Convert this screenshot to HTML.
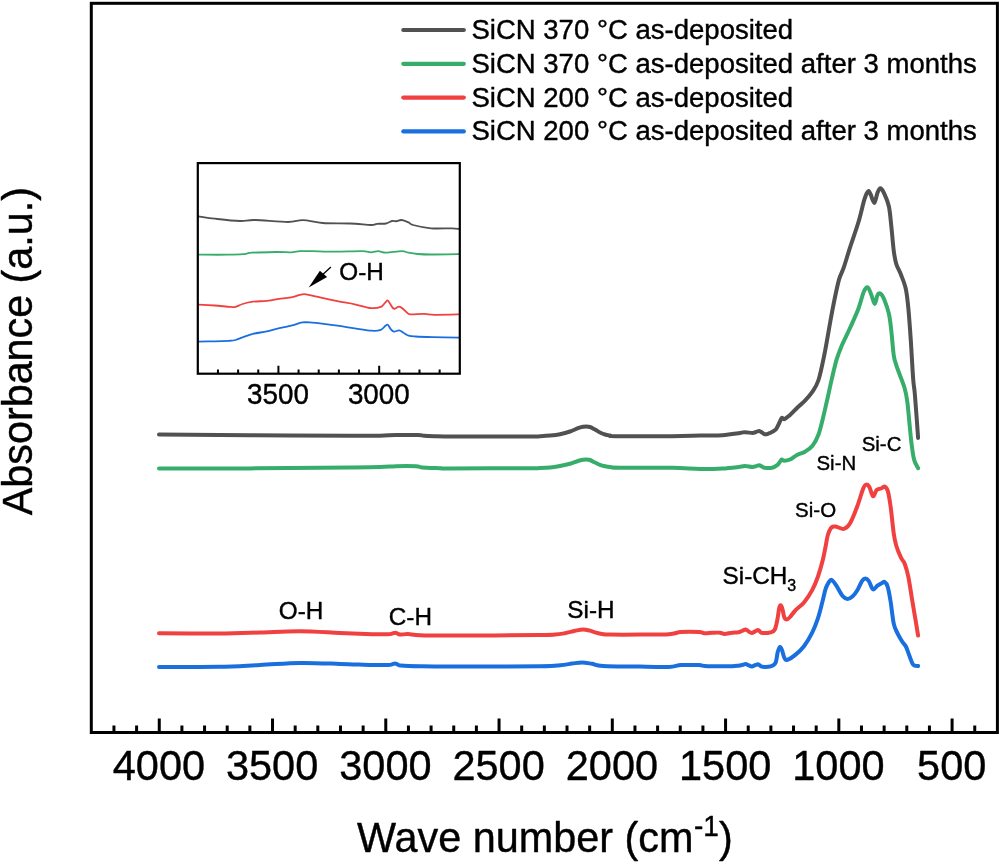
<!DOCTYPE html>
<html lang="en"><head><meta charset="utf-8"><title>FTIR absorbance spectra of SiCN films</title>
<style>html,body{margin:0;padding:0;background:#fff}body{width:1000px;height:863px;overflow:hidden}svg{display:block}</style>
</head><body>
<svg width="1000" height="863" viewBox="0 0 1000 863" font-family="'Liberation Sans', Arial, sans-serif" fill="#000"><style>text{stroke:#000;stroke-width:0.4px;stroke-linejoin:round}</style>
<rect width="1000" height="863" fill="#fff"/>
<path d="M159.0,666.9 C169.0,666.9 202.2,667.1 219.0,666.8 C235.8,666.5 246.5,665.6 260.0,665.0 C273.5,664.4 286.7,663.1 300.0,662.9 C313.3,662.7 328.0,663.5 340.0,663.9 C352.0,664.2 364.0,664.8 372.0,665.0 C380.0,665.2 384.7,665.1 388.0,665.0 C391.3,664.9 390.8,664.6 392.0,664.4 C393.2,664.2 394.0,663.6 395.0,663.6 C396.0,663.6 397.0,664.3 398.0,664.6 C399.0,664.9 397.1,665.1 400.8,665.4 C404.5,665.7 411.8,666.0 420.0,666.2 C428.2,666.4 430.0,666.5 450.0,666.5 C470.0,666.5 521.7,666.5 540.0,666.3 C558.3,666.1 554.7,665.7 560.0,665.2 C565.3,664.8 568.3,664.1 572.0,663.6 C575.7,663.1 578.7,662.4 582.0,662.4 C585.3,662.4 588.5,663.2 592.0,663.8 C595.5,664.4 595.0,665.5 603.0,666.0 C611.0,666.5 629.0,666.5 640.0,666.6 C651.0,666.8 662.2,667.1 669.0,666.9 C675.8,666.6 676.0,665.4 681.0,665.1 C686.0,664.8 695.0,665.0 699.0,665.1 C703.0,665.2 701.5,665.8 705.0,666.0 C708.5,666.2 715.5,666.3 720.0,666.3 C724.5,666.3 729.0,666.3 732.0,666.2 C735.0,666.1 736.3,665.9 738.0,665.7 C739.7,665.5 740.7,665.3 742.0,665.0 C743.3,664.7 744.5,664.0 745.6,664.0 C746.7,664.0 747.5,664.8 748.5,665.2 C749.5,665.6 750.7,666.4 751.8,666.4 C752.9,666.4 754.0,665.6 755.0,665.2 C756.0,664.9 757.3,664.2 758.1,664.3 C758.9,664.4 759.3,665.2 760.0,665.6 C760.7,666.0 760.5,666.7 762.3,666.8 C764.1,666.9 768.4,667.0 770.6,666.4 C772.8,665.8 774.3,665.3 775.5,662.9 C776.7,660.5 777.0,654.5 777.8,651.8 C778.6,649.1 779.4,647.1 780.1,646.9 C780.8,646.7 781.4,648.5 782.1,650.4 C782.8,652.3 783.6,656.5 784.5,658.1 C785.4,659.7 785.4,660.5 787.3,659.9 C789.1,659.3 792.8,656.9 795.6,654.6 C798.4,652.3 801.2,649.9 804.0,646.2 C806.8,642.5 810.0,636.9 812.3,632.3 C814.6,627.7 816.3,623.3 817.9,618.4 C819.5,613.5 820.8,608.0 822.1,603.1 C823.4,598.2 824.4,592.8 825.5,589.2 C826.6,585.7 828.0,583.3 829.0,581.8 C830.0,580.3 830.6,579.4 831.8,580.0 C833.0,580.6 834.4,582.7 836.2,585.4 C838.0,588.1 840.7,593.8 842.6,596.1 C844.5,598.4 845.9,598.9 847.5,599.0 C849.1,599.1 850.8,598.0 852.4,596.6 C854.0,595.2 855.6,593.1 857.2,590.5 C858.8,587.9 860.8,582.8 862.1,580.8 C863.5,578.8 864.2,578.4 865.3,578.4 C866.4,578.4 867.4,579.0 868.7,580.8 C870.0,582.6 871.5,588.5 873.0,589.3 C874.5,590.1 876.0,586.7 877.4,585.7 C878.8,584.7 880.4,583.8 881.6,583.2 C882.8,582.6 883.7,581.4 884.7,582.0 C885.7,582.6 886.7,583.6 887.7,586.9 C888.7,590.1 889.6,595.4 890.6,601.5 C891.6,607.6 892.6,618.1 893.7,623.4 C894.8,628.7 896.0,630.0 897.4,633.1 C898.8,636.2 900.9,639.5 902.3,641.7 C903.7,643.9 904.7,644.1 905.9,646.5 C907.1,648.9 908.4,653.2 909.6,656.3 C910.8,659.3 911.8,663.2 913.2,664.8 C914.6,666.4 917.3,665.8 918.1,666.0" fill="none" stroke="#1A6FDF" stroke-width="4" stroke-linecap="round" stroke-linejoin="round"/>
<path d="M159.0,633.2 C169.0,633.2 202.2,633.6 219.0,633.5 C235.8,633.4 246.5,632.9 260.0,632.5 C273.5,632.1 286.7,631.2 300.0,631.3 C313.3,631.4 328.0,632.5 340.0,633.0 C352.0,633.5 364.0,634.0 372.0,634.2 C380.0,634.4 384.7,634.3 388.0,634.2 C391.3,634.1 390.8,633.9 392.0,633.6 C393.2,633.4 394.2,632.7 395.2,632.7 C396.2,632.7 397.1,633.5 398.0,633.8 C398.9,634.1 399.1,634.6 400.8,634.6 C402.5,634.6 404.8,633.9 408.0,634.0 C411.2,634.1 413.0,635.0 420.0,635.3 C427.0,635.6 430.0,635.6 450.0,635.6 C470.0,635.6 522.5,635.2 540.0,635.0 C557.5,634.8 550.8,634.9 555.0,634.6 C559.2,634.3 561.7,633.8 565.0,633.2 C568.3,632.6 572.0,631.4 575.0,630.8 C578.0,630.2 580.5,629.5 583.0,629.5 C585.5,629.5 587.8,630.1 590.0,630.6 C592.2,631.1 594.0,632.0 596.0,632.6 C598.0,633.2 599.7,633.7 602.0,634.0 C604.3,634.3 603.7,634.5 610.0,634.6 C616.3,634.7 630.2,634.7 640.0,634.6 C649.8,634.5 662.2,634.6 669.0,634.2 C675.8,633.8 676.0,632.5 681.0,632.1 C686.0,631.8 695.0,631.9 699.0,632.1 C703.0,632.3 702.8,633.2 705.0,633.3 C707.2,633.4 709.5,632.9 712.0,632.8 C714.5,632.7 717.9,632.5 720.0,632.7 C722.1,632.9 722.5,633.9 724.5,633.9 C726.5,633.9 729.8,633.0 732.0,632.8 C734.2,632.5 736.3,632.7 738.0,632.4 C739.7,632.1 740.7,631.5 742.0,631.0 C743.3,630.5 744.5,629.4 745.6,629.5 C746.7,629.6 747.5,630.8 748.5,631.4 C749.5,632.0 750.7,633.0 751.8,633.0 C752.9,633.0 754.0,631.9 755.0,631.4 C756.0,630.9 757.3,630.0 758.1,630.0 C758.9,630.0 759.3,631.1 760.0,631.6 C760.7,632.1 760.5,632.9 762.3,633.0 C764.1,633.1 768.5,632.9 770.6,632.3 C772.7,631.7 773.6,631.8 774.8,629.5 C776.0,627.2 776.9,622.0 777.6,618.4 C778.3,614.8 778.7,610.2 779.2,608.0 C779.7,605.8 780.3,605.1 780.8,605.2 C781.3,605.3 781.8,606.7 782.4,608.7 C783.0,610.7 783.5,615.2 784.2,617.0 C784.9,618.8 785.6,619.5 786.6,619.5 C787.6,619.5 788.6,618.6 790.1,617.0 C791.6,615.4 793.3,612.5 795.6,610.1 C797.9,607.7 801.2,605.8 804.0,602.4 C806.8,599.0 810.0,594.2 812.3,589.9 C814.6,585.6 816.1,581.7 817.9,576.7 C819.6,571.7 821.6,564.8 822.8,560.0 C824.0,555.2 824.4,552.2 825.3,548.0 C826.2,543.8 826.9,538.0 828.0,534.5 C829.1,531.0 830.3,528.5 831.7,527.2 C833.1,525.9 834.5,526.4 836.5,526.7 C838.5,527.0 841.6,529.4 843.8,528.9 C846.0,528.4 847.7,527.3 849.9,523.6 C852.1,519.9 855.0,512.4 857.2,506.5 C859.4,500.6 861.8,491.9 863.3,488.3 C864.8,484.7 865.2,484.8 866.2,484.6 C867.2,484.4 868.3,485.1 869.4,487.0 C870.5,488.9 871.8,495.8 873.0,496.3 C874.2,496.8 875.3,491.3 876.7,490.0 C878.1,488.7 880.3,488.9 881.6,488.3 C882.9,487.7 883.7,486.2 884.7,486.6 C885.7,487.0 886.7,487.4 887.7,490.7 C888.7,494.0 889.6,499.4 890.6,506.5 C891.6,513.6 892.8,526.8 893.7,533.3 C894.6,539.8 895.0,541.4 896.2,545.5 C897.4,549.6 899.6,554.7 901.0,557.7 C902.4,560.7 903.5,560.5 904.7,563.7 C905.9,566.9 907.2,571.2 908.4,577.1 C909.6,583.0 910.8,591.7 912.0,599.0 C913.2,606.3 914.7,614.9 915.7,621.0 C916.7,627.1 917.7,633.2 918.1,635.6" fill="none" stroke="#F14040" stroke-width="4" stroke-linecap="round" stroke-linejoin="round"/>
<path d="M159.0,468.5 C174.2,468.5 218.2,468.6 250.0,468.4 C281.8,468.2 328.3,467.7 350.0,467.5 C371.7,467.3 372.3,467.3 380.0,467.1 C387.7,466.9 390.0,466.4 396.0,466.2 C402.0,466.0 411.7,466.0 416.0,466.2 C420.3,466.4 418.0,467.1 422.0,467.4 C426.0,467.7 435.3,468.0 440.0,468.2 C444.7,468.4 435.0,468.4 450.0,468.4 C465.0,468.4 515.0,468.3 530.0,468.2 C545.0,468.1 536.7,468.1 540.0,468.0 C543.3,467.9 546.7,467.8 550.0,467.5 C553.3,467.2 556.7,466.6 560.0,466.0 C563.3,465.4 567.0,464.5 570.0,463.7 C573.0,462.9 575.8,461.6 578.0,461.0 C580.2,460.4 581.6,460.1 583.0,459.8 C584.4,459.6 585.3,459.5 586.5,459.5 C587.7,459.5 588.6,459.5 590.0,460.0 C591.4,460.5 593.3,461.7 595.0,462.5 C596.7,463.3 598.3,464.2 600.0,464.8 C601.7,465.4 603.3,465.8 605.0,466.2 C606.7,466.6 607.5,466.8 610.0,467.0 C612.5,467.2 609.7,467.6 620.0,467.7 C630.3,467.8 658.7,467.6 672.0,467.8 C685.3,468.0 691.6,468.9 700.0,469.0 C708.4,469.1 715.8,468.9 722.5,468.5 C729.2,468.1 736.2,467.2 740.0,466.8 C743.8,466.4 742.9,466.0 745.0,466.0 C747.1,466.0 750.7,467.0 752.5,467.0 C754.3,467.0 754.9,466.5 756.0,466.2 C757.1,465.9 758.2,465.1 759.2,465.2 C760.2,465.3 761.1,466.2 762.0,466.6 C762.9,467.0 762.8,467.6 764.5,467.8 C766.2,468.0 769.9,468.2 772.0,467.8 C774.1,467.4 775.9,466.2 777.2,465.2 C778.5,464.2 779.0,462.9 779.8,462.0 C780.5,461.1 781.0,459.7 781.7,459.5 C782.4,459.3 782.6,460.7 784.0,460.7 C785.4,460.7 787.8,460.5 790.0,459.5 C792.2,458.5 795.0,456.0 797.5,454.7 C800.0,453.4 802.5,453.2 805.0,451.7 C807.5,450.2 810.2,448.6 812.5,445.7 C814.8,442.8 816.8,439.1 818.5,434.5 C820.2,429.9 821.5,424.0 823.0,418.0 C824.5,412.0 826.0,404.9 827.5,398.5 C829.0,392.1 830.2,385.8 831.7,379.4 C833.2,373.0 834.9,365.4 836.5,359.9 C838.1,354.4 839.2,351.8 841.4,346.5 C843.6,341.2 847.1,334.6 849.9,328.3 C852.7,322.0 856.1,314.9 858.4,308.8 C860.7,302.7 862.2,295.3 863.8,291.7 C865.3,288.1 866.5,287.0 867.7,287.4 C868.9,287.8 869.9,291.4 871.1,294.2 C872.3,296.9 873.7,303.7 874.7,303.9 C875.8,304.1 876.5,297.1 877.4,295.4 C878.3,293.6 879.3,292.8 880.4,293.4 C881.5,294.0 882.6,295.6 884.0,299.0 C885.4,302.4 887.7,308.4 888.9,313.7 C890.1,319.0 890.5,323.8 891.3,330.7 C892.1,337.6 892.9,349.3 893.7,355.0 C894.5,360.7 895.3,361.9 896.2,364.8 C897.1,367.7 897.5,368.7 898.9,372.5 C900.3,376.3 903.1,382.9 904.5,387.8 C905.9,392.7 906.5,395.9 907.3,401.7 C908.1,407.5 908.7,415.7 909.4,422.6 C910.1,429.6 910.7,437.1 911.5,443.4 C912.3,449.6 913.1,456.0 914.2,460.1 C915.3,464.2 917.5,466.9 918.1,468.2" fill="none" stroke="#37AD6B" stroke-width="4" stroke-linecap="round" stroke-linejoin="round"/>
<path d="M159.0,434.4 C174.2,434.5 218.2,435.0 250.0,435.2 C281.8,435.4 328.3,435.6 350.0,435.7 C371.7,435.8 372.3,435.8 380.0,435.7 C387.7,435.6 389.7,435.1 396.0,435.0 C402.3,434.9 413.3,434.9 418.0,435.0 C422.7,435.1 421.3,435.6 424.0,435.8 C426.7,436.0 429.7,436.1 434.0,436.2 C438.3,436.3 434.0,436.4 450.0,436.5 C466.0,436.6 515.0,436.6 530.0,436.5 C545.0,436.4 536.7,436.4 540.0,436.2 C543.3,436.0 546.7,435.8 550.0,435.5 C553.3,435.2 556.7,434.9 560.0,434.2 C563.3,433.5 567.0,432.5 570.0,431.5 C573.0,430.5 575.8,429.0 578.0,428.2 C580.2,427.4 581.6,427.1 583.0,426.8 C584.4,426.5 585.3,426.4 586.5,426.4 C587.7,426.4 588.6,426.5 590.0,427.0 C591.4,427.5 593.3,428.6 595.0,429.5 C596.7,430.4 598.3,431.7 600.0,432.5 C601.7,433.3 603.3,434.0 605.0,434.5 C606.7,435.0 608.2,435.2 610.0,435.5 C611.8,435.8 605.7,436.1 616.0,436.2 C626.3,436.3 658.0,436.3 672.0,436.2 C686.0,436.1 691.6,435.7 700.0,435.5 C708.4,435.3 715.8,435.6 722.5,435.2 C729.2,434.8 736.2,433.5 740.0,433.0 C743.8,432.5 742.9,432.2 745.0,432.2 C747.1,432.2 750.7,433.0 752.5,433.0 C754.3,433.0 754.9,432.3 756.0,432.0 C757.1,431.7 758.2,430.9 759.2,431.0 C760.2,431.1 761.1,432.1 762.0,432.6 C762.9,433.1 763.5,434.0 764.5,434.2 C765.5,434.4 767.0,434.1 768.0,433.8 C769.0,433.6 769.5,433.2 770.5,432.7 C771.5,432.2 773.0,431.5 774.0,430.8 C775.0,430.1 775.6,429.9 776.5,428.5 C777.4,427.1 778.6,424.2 779.5,422.5 C780.4,420.8 781.0,418.6 781.7,418.0 C782.5,417.4 783.1,419.3 784.0,419.2 C784.9,419.1 786.0,418.1 787.0,417.4 C788.0,416.7 788.2,416.6 790.0,415.0 C791.8,413.4 795.0,409.9 797.5,407.5 C800.0,405.1 802.5,403.3 805.0,400.7 C807.5,398.1 810.2,395.1 812.5,391.7 C814.8,388.2 816.5,386.1 818.5,380.0 C820.5,373.9 822.3,364.8 824.3,355.0 C826.3,345.2 828.8,329.9 830.4,321.0 C832.0,312.1 832.7,308.4 834.1,301.5 C835.5,294.6 837.4,285.3 839.0,279.6 C840.6,273.9 842.0,272.7 843.8,267.4 C845.6,262.1 847.5,255.4 849.9,247.9 C852.3,240.4 856.0,230.4 858.4,222.3 C860.8,214.2 862.9,204.3 864.5,199.2 C866.1,194.0 867.2,192.2 868.2,191.4 C869.2,190.6 869.6,192.4 870.6,194.3 C871.6,196.2 873.2,203.1 874.3,202.9 C875.4,202.7 876.4,195.5 877.4,193.1 C878.4,190.7 879.3,188.3 880.4,188.3 C881.5,188.3 882.6,190.1 884.0,193.1 C885.4,196.1 887.7,201.0 888.9,206.5 C890.1,212.0 890.5,218.7 891.3,226.0 C892.1,233.3 892.9,244.1 893.7,250.4 C894.5,256.7 895.0,259.6 896.2,263.7 C897.4,267.8 899.4,270.4 901.0,274.7 C902.6,279.0 904.7,283.6 905.9,289.3 C907.1,295.0 907.6,300.3 908.4,308.8 C909.2,317.3 910.0,328.6 910.8,340.4 C911.6,352.2 912.5,370.3 913.2,379.4 C913.9,388.5 914.1,385.1 914.9,394.8 C915.7,404.6 917.6,430.7 918.1,437.9" fill="none" stroke="#515151" stroke-width="4" stroke-linecap="round" stroke-linejoin="round"/>
<rect x="91.3" y="3.3" width="906.1" height="729.2" fill="none" stroke="#000" stroke-width="3"/>
<path d="M974.75,732.5 V725.6 M952.09,732.5 V718.5 M929.44,732.5 V725.6 M906.79,732.5 V725.6 M884.14,732.5 V725.6 M861.48,732.5 V725.6 M838.83,732.5 V718.5 M816.18,732.5 V725.6 M793.53,732.5 V725.6 M770.88,732.5 V725.6 M748.22,732.5 V725.6 M725.57,732.5 V718.5 M702.92,732.5 V725.6 M680.26,732.5 V725.6 M657.61,732.5 V725.6 M634.96,732.5 V725.6 M612.31,732.5 V718.5 M589.65,732.5 V725.6 M567.00,732.5 V725.6 M544.35,732.5 V725.6 M521.70,732.5 V725.6 M499.05,732.5 V718.5 M476.39,732.5 V725.6 M453.74,732.5 V725.6 M431.09,732.5 V725.6 M408.44,732.5 V725.6 M385.78,732.5 V718.5 M363.13,732.5 V725.6 M340.48,732.5 V725.6 M317.82,732.5 V725.6 M295.17,732.5 V725.6 M272.52,732.5 V718.5 M249.87,732.5 V725.6 M227.21,732.5 V725.6 M204.56,732.5 V725.6 M181.91,732.5 V725.6 M159.26,732.5 V718.5 M136.60,732.5 V725.6 M113.95,732.5 V725.6" stroke="#000" stroke-width="3" fill="none"/>
<text transform="translate(951.7,779.7) scale(1,1.03)" font-size="41.5" text-anchor="middle">500</text>
<text transform="translate(838.4,779.7) scale(1,1.03)" font-size="41.5" text-anchor="middle">1000</text>
<text transform="translate(725.2,779.7) scale(1,1.03)" font-size="41.5" text-anchor="middle">1500</text>
<text transform="translate(611.9,779.7) scale(1,1.03)" font-size="41.5" text-anchor="middle">2000</text>
<text transform="translate(498.6,779.7) scale(1,1.03)" font-size="41.5" text-anchor="middle">2500</text>
<text transform="translate(385.4,779.7) scale(1,1.03)" font-size="41.5" text-anchor="middle">3000</text>
<text transform="translate(272.1,779.7) scale(1,1.03)" font-size="41.5" text-anchor="middle">3500</text>
<text transform="translate(158.9,779.7) scale(1,1.03)" font-size="41.5" text-anchor="middle">4000</text>
<text transform="translate(0,852.3) scale(1,1.03)" font-size="41.4"><tspan x="356.9">Wave number (cm</tspan><tspan x="693.9" font-size="28" dy="-16.3">-1</tspan><tspan x="718.9" dy="16.3">)</tspan></text>
<text transform="translate(32.4,351.1) rotate(-90) scale(1,1.03)" font-size="41.3" text-anchor="middle">Absorbance (a.u.)</text>
<path d="M403.3,30.0 H463.8" stroke="#515151" stroke-width="4.2" stroke-linecap="round"/>
<text transform="translate(471.4,38.9) scale(1,1.03)" font-size="27.55">SiCN 370 °C as-deposited</text>
<path d="M403.3,63.8 H463.8" stroke="#37AD6B" stroke-width="4.2" stroke-linecap="round"/>
<text transform="translate(471.4,72.7) scale(1,1.03)" font-size="27.55">SiCN 370 °C as-deposited after 3 months</text>
<path d="M403.3,97.6 H463.8" stroke="#F14040" stroke-width="4.2" stroke-linecap="round"/>
<text transform="translate(471.4,106.5) scale(1,1.03)" font-size="27.55">SiCN 200 °C as-deposited</text>
<path d="M403.3,131.4 H463.8" stroke="#1A6FDF" stroke-width="4.2" stroke-linecap="round"/>
<text transform="translate(471.4,140.3) scale(1,1.03)" font-size="27.55">SiCN 200 °C as-deposited after 3 months</text>
<rect x="197.8" y="163.1" width="262.0" height="210.6" fill="#fff" stroke="none"/>
<path d="M198.3,341.7 C201.1,341.6 209.7,341.4 214.8,341.3 C219.9,341.2 225.2,341.0 228.7,340.8 C232.2,340.6 233.3,340.6 235.6,340.0 C237.9,339.4 239.7,338.4 242.6,337.4 C245.5,336.4 248.9,334.9 253.0,333.9 C257.1,332.9 262.3,332.3 266.9,331.3 C271.5,330.3 276.8,328.7 280.8,327.8 C284.9,326.9 288.0,326.5 291.2,325.7 C294.4,324.9 297.6,323.5 299.9,322.9 C302.2,322.3 303.2,322.2 305.2,322.1 C307.2,322.1 309.6,322.4 312.1,322.6 C314.6,322.8 315.8,322.9 320.0,323.4 C324.2,323.9 331.6,324.9 337.4,325.7 C343.2,326.5 349.1,327.5 354.8,328.3 C360.5,329.1 367.0,330.4 371.3,330.7 C375.6,331.0 378.5,330.7 380.8,329.9 C383.1,329.1 384.0,326.9 385.2,326.0 C386.4,325.1 386.9,324.2 387.8,324.7 C388.7,325.1 389.4,327.5 390.4,328.7 C391.4,329.9 392.4,331.3 393.9,331.6 C395.3,331.9 397.5,330.2 399.1,330.4 C400.7,330.6 401.8,331.8 403.4,332.7 C405.0,333.6 406.6,335.0 408.6,335.6 C410.6,336.2 411.5,336.2 415.6,336.5 C419.7,336.8 425.8,337.0 433.0,337.2 C440.2,337.4 454.7,337.6 459.0,337.7" fill="none" stroke="#1A6FDF" stroke-width="1.8" stroke-linecap="round" stroke-linejoin="round"/>
<path d="M198.3,304.7 C201.1,304.8 209.5,305.1 214.8,305.5 C220.2,305.9 226.9,306.7 230.4,306.9 C233.9,307.1 233.6,307.4 235.6,306.9 C237.6,306.4 239.7,304.9 242.6,304.0 C245.5,303.1 248.9,302.2 253.0,301.7 C257.1,301.2 262.3,301.3 266.9,300.8 C271.5,300.3 276.8,299.2 280.8,298.6 C284.9,298.0 288.0,298.0 291.2,297.4 C294.4,296.8 297.7,295.3 299.9,294.8 C302.1,294.3 302.9,294.2 304.3,294.2 C305.8,294.2 306.0,294.3 308.6,294.8 C311.2,295.3 315.2,296.3 320.0,297.4 C324.8,298.5 331.6,300.0 337.4,301.2 C343.2,302.4 349.1,303.1 354.8,304.3 C360.5,305.5 367.0,307.7 371.3,308.1 C375.6,308.5 378.5,307.8 380.8,306.9 C383.1,306.0 384.0,303.7 385.2,302.6 C386.4,301.5 386.9,300.2 387.8,300.5 C388.7,300.8 389.4,302.9 390.4,304.3 C391.4,305.7 392.4,308.3 393.9,308.7 C395.3,309.1 397.5,306.5 399.1,306.6 C400.7,306.7 402.1,308.2 403.4,309.2 C404.7,310.2 405.7,311.6 406.9,312.5 C408.1,313.4 407.5,314.2 410.4,314.4 C413.3,314.6 420.2,313.8 424.3,313.9 C428.4,314.0 428.9,314.7 434.7,314.8 C440.5,314.9 454.9,314.5 459.0,314.4" fill="none" stroke="#F14040" stroke-width="1.8" stroke-linecap="round" stroke-linejoin="round"/>
<path d="M198.0,254.7 C203.0,254.7 220.5,254.8 228.0,254.7 C235.5,254.6 239.0,254.5 243.0,254.2 C247.0,253.9 246.5,253.1 252.0,252.7 C257.5,252.3 269.5,252.1 276.0,252.0 C282.5,251.9 287.0,252.4 291.0,252.3 C295.0,252.2 296.5,251.4 300.0,251.2 C303.5,251.0 306.2,251.1 312.0,251.2 C317.8,251.3 326.7,251.7 335.0,251.7 C343.3,251.7 356.0,251.1 362.0,251.2 C368.0,251.3 368.2,252.3 371.0,252.3 C373.8,252.3 376.0,251.1 378.5,251.2 C381.0,251.3 382.1,252.7 386.0,252.7 C389.9,252.7 397.9,251.2 401.7,251.2 C405.4,251.2 405.9,252.2 408.5,252.7 C411.1,253.2 413.8,253.7 417.5,254.0 C421.2,254.3 424.0,254.5 431.0,254.5 C438.0,254.5 454.8,254.1 459.5,254.0" fill="none" stroke="#37AD6B" stroke-width="1.8" stroke-linecap="round" stroke-linejoin="round"/>
<path d="M198.0,216.4 C201.2,216.8 210.5,218.2 217.5,219.0 C224.5,219.8 233.8,220.8 240.0,221.0 C246.2,221.2 247.0,219.8 255.0,220.0 C263.0,220.2 280.0,222.0 288.0,222.0 C296.0,222.0 297.2,220.0 303.0,220.2 C308.8,220.4 314.7,222.4 322.5,223.0 C330.3,223.6 341.9,223.2 350.0,223.5 C358.1,223.8 366.5,224.9 371.0,225.0 C375.5,225.1 374.5,224.1 377.0,223.8 C379.5,223.6 383.5,224.0 386.0,223.5 C388.5,223.0 390.2,221.4 392.0,221.0 C393.8,220.6 394.9,221.4 396.5,221.2 C398.1,221.0 399.7,219.8 401.7,220.0 C403.7,220.2 406.6,221.5 408.5,222.3 C410.4,223.1 409.2,224.0 413.0,225.0 C416.8,226.0 424.5,227.8 431.0,228.3 C437.5,228.9 447.2,228.2 452.0,228.3 C456.8,228.4 458.2,228.9 459.5,229.0" fill="none" stroke="#515151" stroke-width="1.8" stroke-linecap="round" stroke-linejoin="round"/>
<rect x="197.8" y="163.1" width="262.0" height="210.6" fill="none" stroke="#000" stroke-width="2.2"/>
<path d="M439.65,373.7 V369.5 M419.49,373.7 V369.5 M399.34,373.7 V369.5 M379.18,373.7 V365.7 M359.03,373.7 V369.5 M338.88,373.7 V369.5 M318.72,373.7 V369.5 M298.57,373.7 V369.5 M278.42,373.7 V365.7 M258.26,373.7 V369.5 M238.11,373.7 V369.5 M217.95,373.7 V369.5" stroke="#000" stroke-width="2" fill="none"/>
<text transform="translate(278.0,403.7) scale(1,1.03)" font-size="27.8" text-anchor="middle">3500</text>
<text transform="translate(378.8,403.7) scale(1,1.03)" font-size="27.8" text-anchor="middle">3000</text>
<path d="M330.9,267.1 L322,275.3" stroke="#000" stroke-width="1.3" fill="none"/>
<path d="M308.7,287.6 L319.9,270.7 L327.1,277 Z" fill="#000"/>
<text transform="translate(339.3,279.9) scale(1,1.01)" font-size="24.3">O-H</text>
<text transform="translate(278.8,618.8) scale(1,1.01)" font-size="24.3">O-H</text>
<text transform="translate(388.8,624.9) scale(1,1.01)" font-size="24.3">C-H</text>
<text transform="translate(567.3,618.0) scale(1,1.01)" font-size="24.3">Si-H</text>
<text transform="translate(816.5,469.6) scale(1,1.01)" font-size="20.4">Si-N</text>
<text transform="translate(861.7,450.5) scale(1,1.01)" font-size="20.4">Si-C</text>
<text transform="translate(795.1,517.2) scale(1,1.01)" font-size="20.5">Si-O</text>
<text transform="translate(722.6,584.3) scale(1,1.01)" font-size="24.3">Si-CH<tspan font-size="16" dy="6.2">3</tspan></text>
</svg>
</body></html>
